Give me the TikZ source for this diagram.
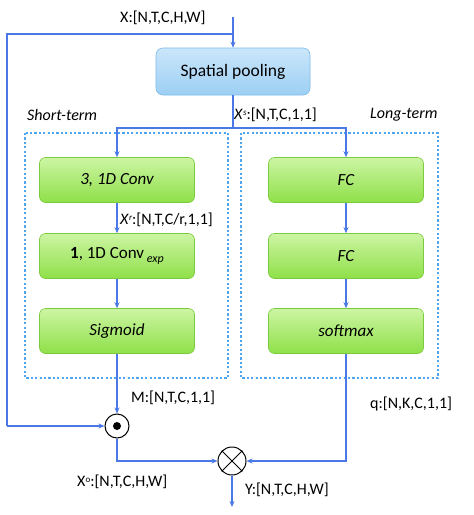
\documentclass[tikz,border=0pt]{standalone}
\usepackage{fontspec}
\setmainfont{Carlito}
\usetikzlibrary{arrows.meta,shapes.misc}
\definecolor{lineblue}{HTML}{4A78E6}
\definecolor{dotblue}{HTML}{4FA6F0}
\definecolor{gtop}{HTML}{CDF5A4}
\definecolor{gbot}{HTML}{8EE048}
\definecolor{gbord}{HTML}{7CCB3E}
\definecolor{btop}{HTML}{CBE6FA}
\definecolor{bbot}{HTML}{9CCFF3}
\definecolor{bbord}{HTML}{7DBBEC}
\tikzset{
  x=1pt,y=-1pt,
  conn/.style={draw=lineblue,line width=1.2pt,-{Stealth[length=6pt,width=5pt]}},
  plain/.style={draw=lineblue,line width=1.2pt},
  greenbox/.style={rounded corners=6pt,draw=gbord,line width=0.6pt,top color=gtop,bottom color=gbot,minimum width=155pt,minimum height=45pt,font=\fontsize{17}{19}\selectfont\itshape,inner sep=0pt},
  bluebox/.style={rounded corners=7pt,draw=bbord,line width=0.6pt,top color=btop,bottom color=bbot,minimum width=154pt,minimum height=47pt,font=\fontsize{17.5}{19}\selectfont,inner sep=0pt},
  dotbox/.style={draw=dotblue,line width=2.2pt,dash pattern=on 2.2pt off 2.2pt},
  lbl/.style={font=\fontsize{16}{18}\selectfont,inner sep=0pt,anchor=west},
  op/.style={circle,draw=black,line width=1pt,fill=white,inner sep=0pt},
}
\begin{document}
\begin{tikzpicture}
\useasboundingbox (0,0) rectangle (474,515);
% dotted groups
\draw[dotbox] (25,133) rectangle (228,378);
\draw[dotbox] (241,133) rectangle (438,378);
% nodes
\coordinate (in) at (233,17);
\coordinate (split) at (233,34);
\node[bluebox] (pool) at (233,71.5) {Spatial pooling};
\node[greenbox] (c1) at (117,180) {3, 1D Conv};
\node[greenbox] (c2) at (117,256) {\upshape\textbf{1}, 1D Conv\,\raisebox{-0.45ex}{\fontsize{12}{13}\selectfont\itshape exp}};
\node[greenbox] (c3) at (117,331) {Sigmoid};
\node[greenbox] (f1) at (346,180) {FC};
\node[greenbox] (f2) at (346,256) {FC};
\node[greenbox] (f3) at (346,331) {softmax};
\node[op,minimum size=24pt] (dot) at (117,426) {};
\fill (dot.center) circle (4pt);
\node[op,minimum size=28pt] (mul) at (232,461) {};
\draw[line width=1pt] (mul.north west) -- (mul.south east) (mul.north east) -- (mul.south west);
\coordinate (out) at (232,507);
% labels
\node[lbl] (lx) at (120,18) {X:[N,T,C,H,W]};
\node[lbl,font=\fontsize{16}{18}\selectfont\itshape] (ls) at (27,115) {Short-term};
\node[lbl,font=\fontsize{16}{18}\selectfont\itshape] (ll) at (370,115) {Long-term};
\node[lbl] (lxs) at (234,115) {\textit{X}\raisebox{0.6ex}{\fontsize{9}{10}\selectfont\itshape s}:[N,T,C,1,1]};
\node[lbl] (lxr) at (120,220) {\textit{X}\raisebox{0.6ex}{\fontsize{9}{10}\selectfont\itshape r}:[N,T,C/r,1,1]};
\node[lbl] (lm) at (131,398) {M:[N,T,C,1,1]};
\node[lbl] (lq) at (370,404) {q:[N,K,C,1,1]};
\node[lbl] (lxo) at (77,482) {X\raisebox{0.6ex}{\fontsize{9}{10}\selectfont o}:[N,T,C,H,W]};
\node[lbl] (ly) at (245,490) {Y:[N,T,C,H,W]};
% connectors
\draw[conn] (in) -- (pool.north);
\draw[plain] (split) -- (7,34) |- (7,426) coordinate (lb);
\draw[conn] (lb) -- (dot.west);
\coordinate (br) at (233,128);
\draw[plain] (pool.south) -- (br);
\draw[conn] (br) -| (c1.north);
\draw[conn] (br) -| (f1.north);
\draw[conn] (c1) -- (c2);
\draw[conn] (c2) -- (c3);
\draw[conn] (f1) -- (f2);
\draw[conn] (f2) -- (f3);
\draw[conn] (c3) -- (dot);
\draw[conn] (dot.south) |- (mul.west);
\draw[conn] (f3.south) |- (mul.east);
\draw[conn] (mul) -- (out);
\end{tikzpicture}
\end{document}
